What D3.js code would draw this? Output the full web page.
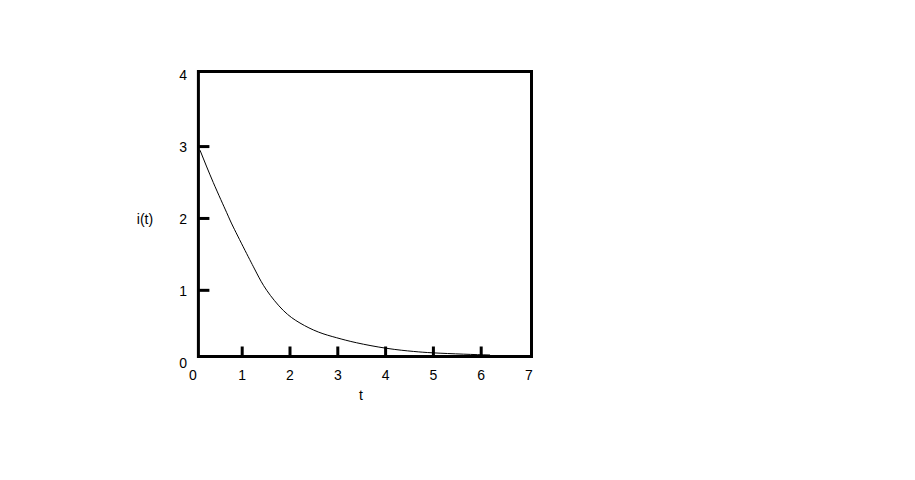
<!DOCTYPE html>
<html>
<head>
<meta charset="utf-8">
<script src="https://cdn.jsdelivr.net/npm/d3@7"></script>
<style>
  body { margin: 0; background: #fff; }
  text { font-family: Arial, "Liberation Sans", sans-serif; font-size: 14px; fill: #000; }
</style>
</head>
<body>
<script>
(function(){

//curve values
var tValues = [0.117, 0.395, 0.676, 0.814, 1.094, 1.303, 1.513, 1.860, 2.209, 2.592, 2.977, 3.395, 4.023, 4.580, 4.998, 5.626, 6.185];
var iValues = [2.95, 2.50, 2.08, 1.88, 1.51, 1.24, 1.00, 0.72, 0.545, 0.42, 0.34, 0.27, 0.193, 0.150, 0.130, 0.112, 0.100];

//tick labels
var xTicks = [0, 1, 2, 3, 4, 5, 6, 7];
var yTicks = [0, 1, 2, 3, 4];
var xInnerTicks = [1, 2, 3, 4, 5, 6];
var yInnerTicks = [1, 2, 3];

var width = 915, height = 480;

var x = d3.scaleLinear().domain([0, 7]).range([194.4, 529]);
var y = d3.scaleLinear().domain([0, 4]).range([362.2, 74.7]);

var svg = d3.select("body")
  .append("svg")
  .attr("width", width)
  .attr("height", height);

//frame sits a few px off the tick positions, as in the original
var frameLeft = x(0) + 4, frameRight = x(7) + 2.5,
  frameTop = y(4) - 3.2, frameBottom = y(0) - 5.7;

//curve
var line = d3.line()
  .x(function(d){ return x(d[0]); })
  .y(function(d){ return y(d[1]); })
  .curve(d3.curveNatural);

svg.append("path")
  .datum(tValues.map(function(t, k){ return [t, iValues[k]]; }))
  .attr("d", line)
  .attr("fill", "none")
  .attr("stroke", "#000")
  .attr("stroke-width", 1);

//inner ticks
svg.selectAll(".xtick")
  .data(xInnerTicks)
  .enter()
  .append("line")
  .attr("class", "xtick")
  .attr("x1", function(d){ return x(d); })
  .attr("x2", function(d){ return x(d); })
  .attr("y1", frameBottom)
  .attr("y2", frameBottom - 10)
  .attr("stroke", "#000")
  .attr("stroke-width", 3);

svg.selectAll(".ytick")
  .data(yInnerTicks)
  .enter()
  .append("line")
  .attr("class", "ytick")
  .attr("x1", frameLeft)
  .attr("x2", frameLeft + 11)
  .attr("y1", function(d){ return y(d); })
  .attr("y2", function(d){ return y(d); })
  .attr("stroke", "#000")
  .attr("stroke-width", 3);

//frame
svg.append("rect")
  .attr("x", frameLeft)
  .attr("y", frameTop)
  .attr("width", frameRight - frameLeft)
  .attr("height", frameBottom - frameTop)
  .attr("fill", "none")
  .attr("stroke", "#000")
  .attr("stroke-width", 3);

//tick labels
svg.selectAll(".xlabel")
  .data(xTicks)
  .enter()
  .append("text")
  .attr("class", "xlabel")
  .attr("x", function(d){ return x(d) - (d == 0 ? 1.5 : 0); })
  .attr("y", 380)
  .attr("text-anchor", "middle")
  .text(function(d){ return d; });

svg.selectAll(".ylabel")
  .data(yTicks)
  .enter()
  .append("text")
  .attr("class", "ylabel")
  .attr("x", 187)
  .attr("y", function(d){ return y(d) + 5.5; })
  .attr("text-anchor", "end")
  .text(function(d){ return d; });

//axis titles
svg.append("text")
  .attr("x", 361)
  .attr("y", 400)
  .attr("text-anchor", "middle")
  .text("t");

svg.append("text")
  .attr("x", 145)
  .attr("y", 224)
  .attr("text-anchor", "middle")
  .text("i(t)");

})();
</script>
</body>
</html>
